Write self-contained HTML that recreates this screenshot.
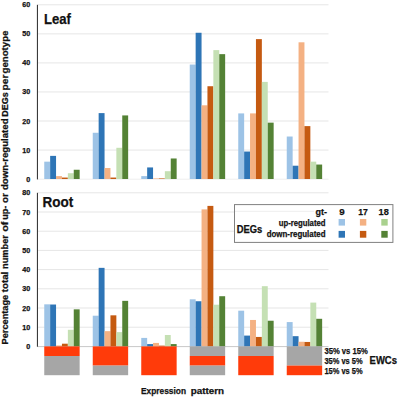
<!DOCTYPE html>
<html><head><meta charset="utf-8"><style>
html,body{margin:0;padding:0;background:#fff;}
svg{display:block;}
text{font-family:"Liberation Sans", sans-serif;font-weight:bold;fill:#111;stroke:#111;stroke-width:0.25px;}
</style></head><body>
<svg width="400" height="398" viewBox="0 0 400 398">
<rect width="400" height="398" fill="#fff"/>
<rect x="38.00" y="149.55" width="290.50" height="1.00" fill="#E6E6E6"/>
<rect x="38.00" y="120.50" width="290.50" height="1.00" fill="#E6E6E6"/>
<rect x="38.00" y="91.45" width="290.50" height="1.00" fill="#E6E6E6"/>
<rect x="38.00" y="62.40" width="290.50" height="1.00" fill="#E6E6E6"/>
<rect x="38.00" y="33.35" width="290.50" height="1.00" fill="#E6E6E6"/>
<rect x="38.00" y="4.30" width="290.50" height="1.00" fill="#E6E6E6"/>
<rect x="38.00" y="326.70" width="290.50" height="1.00" fill="#E6E6E6"/>
<rect x="38.00" y="307.50" width="290.50" height="1.00" fill="#E6E6E6"/>
<rect x="38.00" y="288.30" width="290.50" height="1.00" fill="#E6E6E6"/>
<rect x="38.00" y="269.10" width="290.50" height="1.00" fill="#E6E6E6"/>
<rect x="38.00" y="249.90" width="290.50" height="1.00" fill="#E6E6E6"/>
<rect x="38.00" y="230.70" width="290.50" height="1.00" fill="#E6E6E6"/>
<rect x="38.00" y="211.50" width="290.50" height="1.00" fill="#E6E6E6"/>
<rect x="38.00" y="192.30" width="290.50" height="1.00" fill="#E6E6E6"/>
<rect x="37.30" y="178.70" width="291.20" height="1.00" fill="#EEEEEE"/>
<rect x="37.30" y="346.10" width="291.20" height="1.00" fill="#C8C8C8"/>
<rect x="44.25" y="161.66" width="5.90" height="17.34" fill="#9DC3E6"/>
<rect x="50.15" y="155.88" width="5.90" height="23.12" fill="#2E75B6"/>
<rect x="56.05" y="176.11" width="5.90" height="2.89" fill="#F4B183"/>
<rect x="61.95" y="177.56" width="5.90" height="1.45" fill="#C55A11"/>
<rect x="67.85" y="173.22" width="5.90" height="5.78" fill="#C5E0B4"/>
<rect x="73.75" y="169.75" width="5.90" height="9.25" fill="#548235"/>
<rect x="92.75" y="132.76" width="5.90" height="46.24" fill="#9DC3E6"/>
<rect x="98.65" y="113.11" width="5.90" height="65.89" fill="#2E75B6"/>
<rect x="104.55" y="168.02" width="5.90" height="10.98" fill="#F4B183"/>
<rect x="110.45" y="177.56" width="5.90" height="1.45" fill="#C55A11"/>
<rect x="116.35" y="147.79" width="5.90" height="31.21" fill="#C5E0B4"/>
<rect x="122.25" y="115.42" width="5.90" height="63.58" fill="#548235"/>
<rect x="141.25" y="176.11" width="5.90" height="2.89" fill="#9DC3E6"/>
<rect x="147.15" y="167.44" width="5.90" height="11.56" fill="#2E75B6"/>
<rect x="153.05" y="178.42" width="5.90" height="0.58" fill="#F4B183"/>
<rect x="158.95" y="178.42" width="5.90" height="0.58" fill="#C55A11"/>
<rect x="164.85" y="171.20" width="5.90" height="7.80" fill="#C5E0B4"/>
<rect x="170.75" y="158.48" width="5.90" height="20.52" fill="#548235"/>
<rect x="189.75" y="64.56" width="5.90" height="114.44" fill="#9DC3E6"/>
<rect x="195.65" y="32.77" width="5.90" height="146.23" fill="#2E75B6"/>
<rect x="201.55" y="105.30" width="5.90" height="73.70" fill="#F4B183"/>
<rect x="207.45" y="86.23" width="5.90" height="92.77" fill="#C55A11"/>
<rect x="213.35" y="50.11" width="5.90" height="128.89" fill="#C5E0B4"/>
<rect x="219.25" y="54.15" width="5.90" height="124.85" fill="#548235"/>
<rect x="238.25" y="113.40" width="5.90" height="65.60" fill="#9DC3E6"/>
<rect x="244.15" y="151.54" width="5.90" height="27.46" fill="#2E75B6"/>
<rect x="250.05" y="113.40" width="5.90" height="65.60" fill="#F4B183"/>
<rect x="255.95" y="39.12" width="5.90" height="139.88" fill="#C55A11"/>
<rect x="261.85" y="81.90" width="5.90" height="97.10" fill="#C5E0B4"/>
<rect x="267.75" y="122.64" width="5.90" height="56.36" fill="#548235"/>
<rect x="286.75" y="136.52" width="5.90" height="42.48" fill="#9DC3E6"/>
<rect x="292.65" y="165.71" width="5.90" height="13.29" fill="#2E75B6"/>
<rect x="298.55" y="42.30" width="5.90" height="136.70" fill="#F4B183"/>
<rect x="304.45" y="126.11" width="5.90" height="52.89" fill="#C55A11"/>
<rect x="310.35" y="161.66" width="5.90" height="17.34" fill="#C5E0B4"/>
<rect x="316.25" y="164.55" width="5.90" height="14.45" fill="#548235"/>
<rect x="44.25" y="304.33" width="5.90" height="42.07" fill="#9DC3E6"/>
<rect x="50.15" y="304.52" width="5.90" height="41.88" fill="#2E75B6"/>
<rect x="56.05" y="345.44" width="5.90" height="0.96" fill="#F4B183"/>
<rect x="61.95" y="343.70" width="5.90" height="2.70" fill="#C55A11"/>
<rect x="67.85" y="329.80" width="5.90" height="16.60" fill="#C5E0B4"/>
<rect x="73.75" y="309.34" width="5.90" height="37.06" fill="#548235"/>
<rect x="92.75" y="315.71" width="5.90" height="30.69" fill="#9DC3E6"/>
<rect x="98.65" y="267.85" width="5.90" height="78.55" fill="#2E75B6"/>
<rect x="104.55" y="331.15" width="5.90" height="15.25" fill="#F4B183"/>
<rect x="110.45" y="315.33" width="5.90" height="31.07" fill="#C55A11"/>
<rect x="116.35" y="332.12" width="5.90" height="14.28" fill="#C5E0B4"/>
<rect x="122.25" y="300.85" width="5.90" height="45.55" fill="#548235"/>
<rect x="141.25" y="337.91" width="5.90" height="8.49" fill="#9DC3E6"/>
<rect x="147.15" y="344.08" width="5.90" height="2.32" fill="#2E75B6"/>
<rect x="153.05" y="342.93" width="5.90" height="3.47" fill="#F4B183"/>
<rect x="158.95" y="345.63" width="5.90" height="0.77" fill="#C55A11"/>
<rect x="164.85" y="335.01" width="5.90" height="11.39" fill="#C5E0B4"/>
<rect x="170.75" y="344.08" width="5.90" height="2.32" fill="#548235"/>
<rect x="189.75" y="299.31" width="5.90" height="47.09" fill="#9DC3E6"/>
<rect x="195.65" y="301.24" width="5.90" height="45.16" fill="#2E75B6"/>
<rect x="201.55" y="209.37" width="5.90" height="137.03" fill="#F4B183"/>
<rect x="207.45" y="205.90" width="5.90" height="140.50" fill="#C55A11"/>
<rect x="213.35" y="304.71" width="5.90" height="41.69" fill="#C5E0B4"/>
<rect x="219.25" y="296.22" width="5.90" height="50.18" fill="#548235"/>
<rect x="238.25" y="310.69" width="5.90" height="35.70" fill="#9DC3E6"/>
<rect x="244.15" y="335.59" width="5.90" height="10.81" fill="#2E75B6"/>
<rect x="250.05" y="319.96" width="5.90" height="26.44" fill="#F4B183"/>
<rect x="255.95" y="336.94" width="5.90" height="9.46" fill="#C55A11"/>
<rect x="261.85" y="286.18" width="5.90" height="60.22" fill="#C5E0B4"/>
<rect x="267.75" y="320.73" width="5.90" height="25.67" fill="#548235"/>
<rect x="286.75" y="322.08" width="5.90" height="24.32" fill="#9DC3E6"/>
<rect x="292.65" y="336.17" width="5.90" height="10.23" fill="#2E75B6"/>
<rect x="298.55" y="341.77" width="5.90" height="4.63" fill="#F4B183"/>
<rect x="304.45" y="341.96" width="5.90" height="4.44" fill="#C55A11"/>
<rect x="310.35" y="302.59" width="5.90" height="43.81" fill="#C5E0B4"/>
<rect x="316.25" y="318.80" width="5.90" height="27.60" fill="#548235"/>
<rect x="44.25" y="346.40" width="35.40" height="9.60" fill="#FF3B0A"/>
<rect x="44.25" y="356.00" width="35.40" height="19.20" fill="#A6A6A6"/>
<rect x="92.75" y="346.40" width="35.40" height="19.20" fill="#FF3B0A"/>
<rect x="92.75" y="365.60" width="35.40" height="9.60" fill="#A6A6A6"/>
<rect x="141.25" y="346.40" width="35.40" height="28.80" fill="#FF3B0A"/>
<rect x="189.75" y="346.40" width="35.40" height="9.60" fill="#A6A6A6"/>
<rect x="189.75" y="356.00" width="35.40" height="9.60" fill="#FF3B0A"/>
<rect x="189.75" y="365.60" width="35.40" height="9.60" fill="#A6A6A6"/>
<rect x="238.25" y="346.40" width="35.40" height="9.60" fill="#A6A6A6"/>
<rect x="238.25" y="356.00" width="35.40" height="19.20" fill="#FF3B0A"/>
<rect x="286.75" y="346.40" width="35.40" height="19.20" fill="#A6A6A6"/>
<rect x="286.75" y="365.60" width="35.40" height="9.60" fill="#FF3B0A"/>
<rect x="36.90" y="4.80" width="1.10" height="174.60" fill="#3A3A3A"/>
<rect x="36.90" y="192.80" width="1.10" height="153.90" fill="#3A3A3A"/>
<text x="30.3" y="181.6" font-size="7.2" text-anchor="end">0</text>
<text x="30.3" y="152.55" font-size="7.2" text-anchor="end">10</text>
<text x="30.3" y="123.5" font-size="7.2" text-anchor="end">20</text>
<text x="30.3" y="94.45" font-size="7.2" text-anchor="end">30</text>
<text x="30.3" y="65.4" font-size="7.2" text-anchor="end">40</text>
<text x="30.3" y="36.349999999999994" font-size="7.2" text-anchor="end">50</text>
<text x="30.3" y="7.300000000000011" font-size="7.2" text-anchor="end">60</text>
<text x="30.3" y="348.9" font-size="7.2" text-anchor="end">0</text>
<text x="30.3" y="329.7" font-size="7.2" text-anchor="end">10</text>
<text x="30.3" y="310.5" font-size="7.2" text-anchor="end">20</text>
<text x="30.3" y="291.29999999999995" font-size="7.2" text-anchor="end">30</text>
<text x="30.3" y="272.09999999999997" font-size="7.2" text-anchor="end">40</text>
<text x="30.3" y="252.89999999999998" font-size="7.2" text-anchor="end">50</text>
<text x="30.3" y="233.7" font-size="7.2" text-anchor="end">60</text>
<text x="30.3" y="214.49999999999997" font-size="7.2" text-anchor="end">70</text>
<text x="30.3" y="195.29999999999998" font-size="7.2" text-anchor="end">80</text>
<text x="44" y="24.3" font-size="14.5" text-anchor="start" textLength="27" lengthAdjust="spacingAndGlyphs">Leaf</text>
<text x="42.5" y="206.7" font-size="14" text-anchor="start" textLength="30.7" lengthAdjust="spacingAndGlyphs">Root</text>
<g transform="translate(8.4,0) rotate(-90)">
<text x="-344.40" y="0" font-size="9" textLength="49.60" lengthAdjust="spacingAndGlyphs">Percentage</text>
<text x="-292.20" y="0" font-size="9" textLength="20.50" lengthAdjust="spacingAndGlyphs">total</text>
<text x="-268.90" y="0" font-size="9" textLength="33.80" lengthAdjust="spacingAndGlyphs">number</text>
<text x="-231.80" y="0" font-size="9" textLength="10.20" lengthAdjust="spacingAndGlyphs">of</text>
<text x="-219.80" y="0" font-size="9" textLength="14.10" lengthAdjust="spacingAndGlyphs">up-</text>
<text x="-203.10" y="0" font-size="9" textLength="9.80" lengthAdjust="spacingAndGlyphs">or</text>
<text x="-190.10" y="0" font-size="9" textLength="71.60" lengthAdjust="spacingAndGlyphs">down-regulated</text>
<text x="-116.70" y="0" font-size="9" textLength="24.40" lengthAdjust="spacingAndGlyphs">DEGs</text>
<text x="-90.50" y="0" font-size="9" textLength="16.00" lengthAdjust="spacingAndGlyphs">per</text>
<text x="-73.40" y="0" font-size="9" textLength="42.80" lengthAdjust="spacingAndGlyphs">genotype</text>
</g>
<rect x="234.5" y="204.6" width="158.4" height="37.8" fill="#fff" stroke="#808080" stroke-width="1"/>
<rect x="235.00" y="210.80" width="79.00" height="1.00" fill="#EEEEEE"/>
<text x="327.0" y="215.2" font-size="9.4" text-anchor="end" textLength="11.4" lengthAdjust="spacingAndGlyphs">gt-</text>
<text x="325.5" y="226.2" font-size="8.6" text-anchor="end" textLength="46.8" lengthAdjust="spacingAndGlyphs">up-regulated</text>
<text x="325.5" y="236.8" font-size="8.6" text-anchor="end" textLength="58.8" lengthAdjust="spacingAndGlyphs">down-regulated</text>
<text x="236.7" y="232.5" font-size="10" text-anchor="start" textLength="25.5" lengthAdjust="spacingAndGlyphs">DEGs</text>
<text x="342.1" y="215.2" font-size="9.8" text-anchor="middle">9</text>
<text x="363.0" y="215.2" font-size="9.8" text-anchor="middle" textLength="9.6" lengthAdjust="spacingAndGlyphs">17</text>
<text x="383.7" y="215.2" font-size="9.8" text-anchor="middle" textLength="10.2" lengthAdjust="spacingAndGlyphs">18</text>
<rect x="338.60" y="219.00" width="6.40" height="6.60" fill="#9DC3E6"/>
<rect x="338.60" y="230.90" width="6.40" height="6.80" fill="#2E75B6"/>
<rect x="359.90" y="219.00" width="6.40" height="6.60" fill="#F4B183"/>
<rect x="359.90" y="230.90" width="6.40" height="6.80" fill="#C55A11"/>
<rect x="381.30" y="219.00" width="6.40" height="6.60" fill="#A9D18E"/>
<rect x="381.30" y="230.90" width="6.40" height="6.80" fill="#548235"/>
<text x="324.4" y="354.3" font-size="9.2" text-anchor="start" textLength="43.4" lengthAdjust="spacingAndGlyphs">35% vs 15%</text>
<text x="324.4" y="363.8" font-size="9.2" text-anchor="start" textLength="38.2" lengthAdjust="spacingAndGlyphs">35% vs 5%</text>
<text x="324.4" y="374.0" font-size="9.2" text-anchor="start" textLength="38.2" lengthAdjust="spacingAndGlyphs">15% vs 5%</text>
<text x="369.6" y="363.6" font-size="10" text-anchor="start" textLength="27.4" lengthAdjust="spacingAndGlyphs">EWCs</text>
<text x="141.0" y="393.7" font-size="9" text-anchor="start" textLength="45.0" lengthAdjust="spacingAndGlyphs">Expression</text>
<text x="190.8" y="393.7" font-size="9" text-anchor="start" textLength="33.3" lengthAdjust="spacingAndGlyphs">pattern</text>
</svg>
</body></html>
